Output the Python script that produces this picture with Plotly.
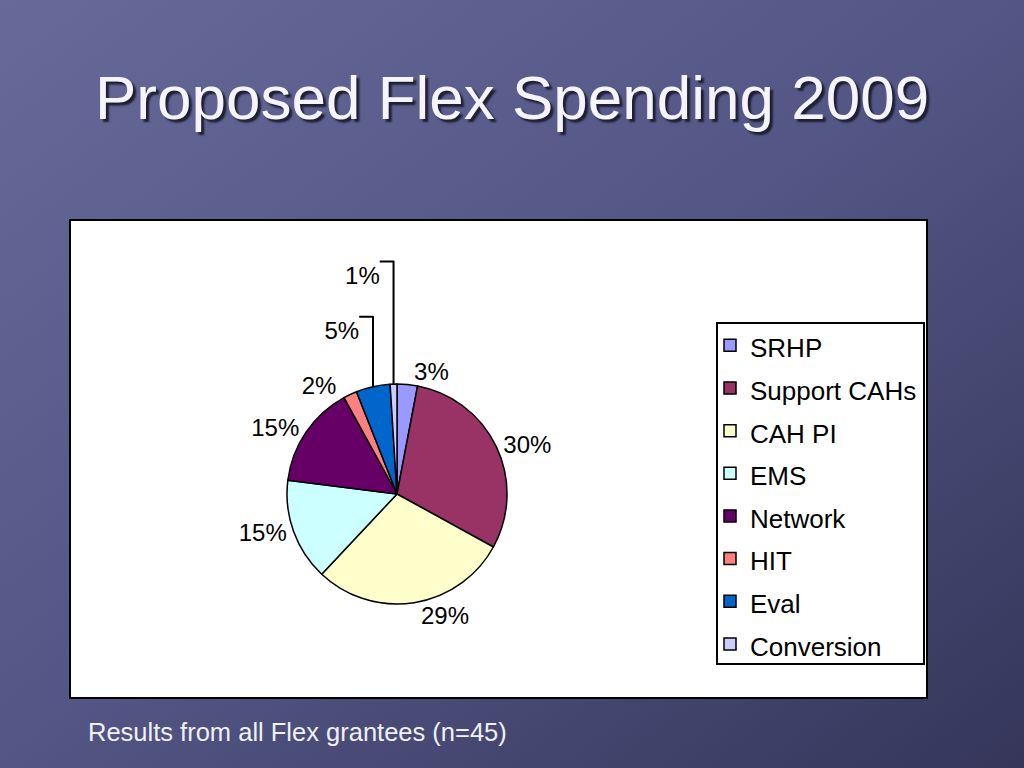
import base64
import plotly.graph_objects as go

# slice data, clockwise from 12 o'clock
labels = ['SRHP', 'Support CAHs', 'CAH PI', 'EMS', 'Network', 'HIT', 'Eval', 'Conversion']
values = [3, 30, 29, 15, 15, 2, 5, 1]
colors = ['#9999ff', '#993366', '#ffffcc', '#ccffff', '#660066', '#ff8080', '#0066cc', '#ccccff']

title_text = 'Proposed Flex Spending 2009'
footer_text = 'Results from all Flex grantees (n=45)'

FONT = 'Liberation Sans, Arial, sans-serif'

# slide background gradient as an svg image
svg = ('<svg xmlns="http://www.w3.org/2000/svg" width="1024" height="768">'
       '<defs><linearGradient id="g" x1="0" y1="0" x2="1" y2="1">'
       '<stop offset="0" stop-color="#676a98"/>'
       '<stop offset="0.5" stop-color="#535584"/>'
       '<stop offset="1" stop-color="#35365a"/>'
       '</linearGradient></defs>'
       '<rect width="1024" height="768" fill="url(#g)"/></svg>')
bg_src = 'data:image/svg+xml;base64,' + base64.b64encode(svg.encode()).decode()

# legend rows are spaced wider than the text, so the text is set smaller inline
legend_labels = ["<span style='font-size:26px'>%s</span>" % l for l in labels]

# the tiny slices get a blank first line so their stacked labels fan out more
text_tpl = ["<span style='font-size:21px'>\u00a0</span><br>%{value}%" if v <= 5 and i > 0
            else '%{value}%' for i, v in enumerate(values)]

pie = go.Pie(
    labels=legend_labels,
    values=values,
    sort=False,
    direction='clockwise',
    rotation=0,
    marker=dict(colors=colors, line=dict(color='black', width=1.5)),
    texttemplate=text_tpl,
    textposition='outside',
    textfont=dict(family=FONT, size=24, color='black'),
    hovertemplate='%{value}%<extra></extra>',
    domain=dict(x=[287 / 1024, 507 / 1024], y=[1 - 604 / 768, 1 - 384 / 768]),
)

fig = go.Figure(data=[pie])

fig.update_layout(
    width=1024,
    height=768,
    margin=dict(l=0, r=0, t=0, b=0),
    paper_bgcolor='#4a4c7c',
    plot_bgcolor='rgba(0,0,0,0)',
    images=[dict(source=bg_src, xref='paper', yref='paper', x=0, y=1,
                 sizex=1, sizey=1, sizing='stretch', layer='below')],
    shapes=[
        dict(type='rect', xref='paper', yref='paper',
             x0=70 / 1024, x1=927 / 1024, y0=1 - 698 / 768, y1=1 - 220 / 768,
             fillcolor='white', line=dict(color='black', width=2), layer='below'),
        # legend frame
        dict(type='rect', xref='paper', yref='paper',
             x0=717 / 1024, x1=924 / 1024, y0=1 - 664 / 768, y1=1 - 323 / 768,
             fillcolor='white', line=dict(color='black', width=2), layer='below'),
    ],
    legend=dict(
        x=710 / 1024, y=1 - 319 / 768, xanchor='left', yanchor='top',
        bgcolor='rgba(0,0,0,0)', borderwidth=0,
        font=dict(family=FONT, size=30.5, color='black'),
    ),
    annotations=[
        dict(text=title_text, xref='paper', yref='paper', x=0.5, y=1 - 97 / 768,
             xanchor='center', yanchor='middle', showarrow=False,
             font=dict(family=FONT, size=62, color='#f4f4fa',
                       shadow='3px 3px 2px #1e1f33')),
        dict(text=footer_text, xref='paper', yref='paper', x=86 / 1024, y=1 - 732 / 768,
             xanchor='left', yanchor='middle', showarrow=False,
             font=dict(family=FONT, size=25.5, color='#f0f0f5')),
    ],
)

fig.write_html('out.html', config={'displayModeBar': False},
               post_script="document.body.style.margin='0';")
